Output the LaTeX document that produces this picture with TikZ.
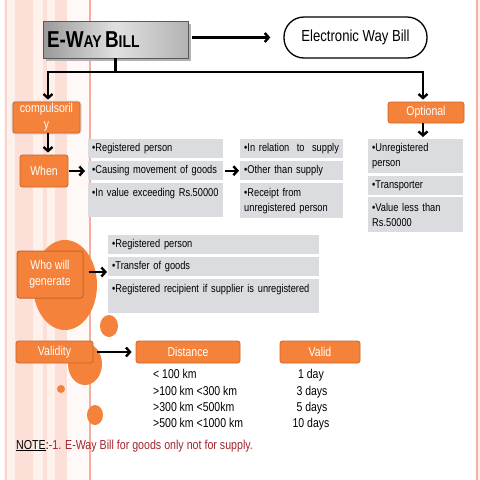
\documentclass[tikz,border=0pt]{standalone}
\usepackage{fontspec}
\setmainfont{Liberation Sans}[FakeStretch=0.82]
\usetikzlibrary{arrows.meta,calc,shadows}
\definecolor{orangeF}{HTML}{F5823A}
\definecolor{orangeD}{HTML}{C9642A}
\definecolor{grayF}{HTML}{DADCDF}
\definecolor{noteRed}{HTML}{A3242B}
\definecolor{pinkA}{HTML}{FCE0D7}
\definecolor{pinkB}{HTML}{FEF0EB}
\definecolor{pinkL}{HTML}{F4B09E}
\begin{document}
\begin{tikzpicture}[x=1pt,y=-1pt,
  obox/.style={draw=orangeD, line width=0.8pt, fill=orangeF, rounded corners=2.5pt,
    text=white, font=\fontsize{12.8}{16}\selectfont, inner sep=0pt, align=center},
  grayrow/.style={fill=grayF, anchor=north west, inner xsep=4pt, inner ysep=0pt,
    align=left, font=\fontsize{11.3}{15}\selectfont},
  arr/.style={line width=2.4pt, -{Straight Barb[length=4pt,width=9pt]}},
  tree/.style={line width=2.4pt},
  plain/.style={font=\fontsize{12.8}{16}\selectfont, inner sep=0pt}
]
\useasboundingbox (0,0) rectangle (480,480);
\fill[white] (0,0) rectangle (480,480);
% left stripes
\fill[pinkB] (0,0) rectangle (90,480);
\fill[white] (0,0) rectangle (4,480);
\fill[pinkL!50] (4.5,0) rectangle (7,480);
\fill[pinkA] (15,0) rectangle (33,480);
\fill[pinkA] (43,0) rectangle (47,480);
\fill[pinkA] (55,0) rectangle (67,480);
\fill[white!60!pinkB] (67,0) rectangle (89,480);
\fill[pinkL] (89,0) rectangle (90.5,480);
% right edge
\fill[pinkL] (476,0) rectangle (477.5,480);
\fill[pinkB] (477.5,0) rectangle (480,480);
% decorative circles
\fill[orangeF] (65,285) ellipse [x radius=32pt, y radius=45pt];
\fill[orangeF] (109,326) ellipse [x radius=9pt, y radius=11pt];
\fill[orangeF] (85,364) ellipse [x radius=17pt, y radius=21pt];
\fill[orangeF] (61,389) circle [radius=4pt];
\fill[orangeF] (95,415) ellipse [x radius=8pt, y radius=10pt];

% title boxes
\fill[black!30] (45.5,23.5) rectangle (190.5,60.5);
\node[draw=black!65, line width=0.8pt, left color=black!40, right color=black!30,
  middle color=black!12,
  minimum width=145, minimum height=37, inner xsep=4pt, text width=137, align=left]
  (ew) at (115.5,39.5)
  {\fontsize{23}{23}\selectfont\bfseries E-W{\fontsize{17}{17}\selectfont AY} B{\fontsize{17}{17}\selectfont ILL}};
\node[draw, line width=1.3pt, rounded corners=20pt, minimum width=143, minimum height=41,
  inner sep=0pt, font=\fontsize{16}{18}\selectfont] (elec) at (355.5,37.5) {Electronic Way Bill};

% orange boxes
\node[obox, minimum width=67, minimum height=31,
  preaction={draw=white!85!black, line width=3pt}]
  (comp) at (46.5,117.5) {compulsoril\\y};
\node[obox, minimum width=48, minimum height=32] (when) at (44,171) {When};
\node[obox, minimum width=76, minimum height=21] (opt) at (426,112.5) {Optional};
\node[obox, minimum width=66, minimum height=47, line width=1pt] (who) at (50,274.5) {Who will\\generate};
\node[obox, minimum width=77, minimum height=22] (valy) at (54.5,352) {Validity};
\node[obox, minimum width=104, minimum height=22] (dist) at (188,352) {Distance};
\node[obox, minimum width=80, minimum height=22] (vald) at (320,352) {Valid};

% gray lists
\node[grayrow, text width=127, minimum height=19] (g1a) at (88,139) {\mbox{•Registered person}};
\node[grayrow, text width=127, minimum height=19] (g1b) at (88,161) {\mbox{•Causing movement of goods}};
\node[grayrow, text width=127, minimum height=34] (g1c) at (88,183) {\mbox{•In value exceeding Rs.50000}\\\mbox{}};

\node[grayrow, text width=95, minimum height=19] (g2a) at (240,139) {\mbox{•In relation~ to~ supply}};
\node[grayrow, text width=95, minimum height=19] (g2b) at (240,161) {\mbox{•Other than supply}};
\node[grayrow, text width=95, minimum height=35] (g2c) at (240,183) {\mbox{•Receipt from}\\\mbox{unregistered person}};

\node[grayrow, text width=87, minimum height=34] (g3a) at (368,139) {\mbox{•Unregistered}\\\mbox{person}};
\node[grayrow, text width=87, minimum height=19] (g3b) at (368,176) {\mbox{•Transporter}};
\node[grayrow, text width=87, minimum height=35] (g3c) at (368,197) {\mbox{•Value less than}\\\mbox{Rs.50000}};

\node[grayrow, text width=203, minimum height=19] (g4a) at (108,235) {\mbox{•Registered person}};
\node[grayrow, text width=203, minimum height=19] (g4b) at (108,257) {\mbox{•Transfer of goods}};
\node[grayrow, text width=203, minimum height=34] (g4c) at (108,279) {\mbox{•Registered recipient if supplier is unregistered}\\\mbox{}};

% validity table
\node[plain, anchor=base west] (d1) at (153,378.6) {< 100 km};
\node[plain, anchor=base west] (d2) at (153,395.2) {>100 km <300 km};
\node[plain, anchor=base west] (d3) at (153,411.4) {>300 km <500km};
\node[plain, anchor=base west] (d4) at (153,427.6) {>500 km <1000 km};
\node[plain, anchor=base] (v1) at (311,378.6) {1 day};
\node[plain, anchor=base] (v2) at (312,395.2) {3 days};
\node[plain, anchor=base] (v3) at (312,411.4) {5 days};
\node[plain, anchor=base] (v4) at (311,427.6) {10 days};

% note
\node[anchor=base west, inner sep=0pt, font=\fontsize{13}{15}\selectfont] (note) at (16,449)
  {\underline{NOTE}:\textcolor{noteRed}{-1. E-Way Bill for goods only not for supply.}};

% connectors
\coordinate (j) at (115.5,72);
\draw[tree] (ew.south) -- (j);
\draw[arr] (j) -| ($(comp.north)+(1.5,-2)$);
\draw[arr] (j) -| ($(opt.north)+(-3,-2)$);
\draw[arr, shorten <=4pt, shorten >=13pt] (ew.east |- elec.west) -- (elec.west);
\draw[arr] (comp.south -| 48,0) -- ($(when.north -| 48,0)+(0,-2)$);
\draw[arr, shorten <=1pt, shorten >=3pt] (when.east) -- (when.east -| g1b.west);
\draw[arr, shorten <=2pt, shorten >=1pt] (g1b.east) -- (g2b.west);
\draw[arr, shorten >=2pt] (opt.south -| 423,0) -- (g3a.north -| 423,0);
\draw[arr, shorten <=5pt, shorten >=1pt] (who.east |- 0,272) -- (g4b.west |- 0,272);
\draw[arr, shorten <=4pt, shorten >=4pt] (valy.east) -- (dist.west);
\end{tikzpicture}
\end{document}
